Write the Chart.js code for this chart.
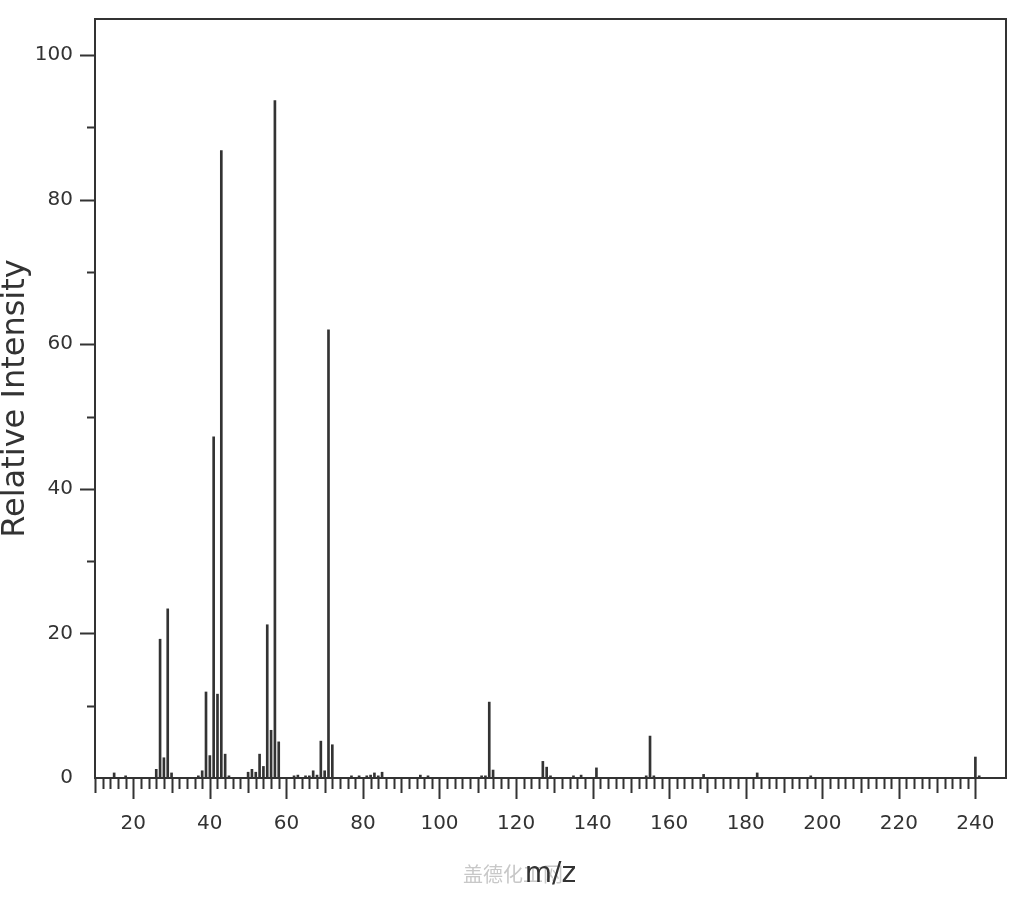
<!DOCTYPE html>
<html>
<head>
<meta charset="utf-8">
<script src="https://cdn.jsdelivr.net/npm/chart.js@4.4.1/dist/chart.umd.min.js"></script>
<style>
  body { margin: 0; background: #fff; }
  #wrap { width: 1024px; height: 900px; }
</style>
</head>
<body>
<div id="wrap"><canvas id="ms_chart" width="1024" height="900"></canvas></div>
<script>
// peaks: m/z and relative intensity (%)
const mzValues = [
  15, 18, 26, 27, 28, 29, 30, 37, 38, 39, 40, 41, 42, 43, 44, 45,
  50, 51, 52, 53, 54, 55, 56, 57, 58, 62, 63, 65, 66, 67, 68, 69, 70, 71, 72,
  77, 79, 81, 82, 83, 84, 85, 95, 97, 111, 112, 113, 114, 127, 128, 129,
  135, 137, 141, 154, 155, 156, 169, 183, 197, 240, 241
];
const intensities = [
  0.7, 0.3, 1.2, 19.2, 2.8, 23.4, 0.7, 0.3, 1.0, 11.9, 3.1, 47.2, 11.6, 86.8, 3.3, 0.3,
  0.8, 1.2, 0.8, 3.3, 1.6, 21.2, 6.6, 93.7, 5.0, 0.3, 0.4, 0.3, 0.3, 1.0, 0.4, 5.1, 1.0, 62.0, 4.6,
  0.3, 0.3, 0.3, 0.4, 0.7, 0.3, 0.8, 0.4, 0.3, 0.3, 0.3, 10.5, 1.1, 2.3, 1.5, 0.3,
  0.3, 0.4, 1.4, 0.3, 5.8, 0.3, 0.5, 0.7, 0.3, 2.9, 0.3
];
const xTickLabels = [20, 40, 60, 80, 100, 120, 140, 160, 180, 200, 220, 240];
const yTickLabels = [0, 20, 40, 60, 80, 100];

const ink = "#333";
const fontFamily = "'DejaVu Sans', sans-serif";

// frame, tick marks and the site watermark
const axisMarks = {
  id: "axisMarks",
  beforeDraw(chart) {
    const c = chart.ctx;
    c.save();
    c.fillStyle = "#c8c8c8";
    c.font = "20px 'Noto Sans CJK SC'";
    c.textAlign = "center";
    c.textBaseline = "middle";
    c.fillText("盖德化工网", 513, 874);
    c.restore();
  },
  afterDraw(chart) {
    const c = chart.ctx;
    const a = chart.chartArea;
    const x = chart.scales.x;
    const y = chart.scales.y;
    c.save();
    c.strokeStyle = ink;
    c.lineWidth = 2;
    c.strokeRect(a.left, a.top, a.right - a.left, a.bottom - a.top);
    c.beginPath();
    for (let v = 10; v <= 240; v += 2) {
      const px = Math.round(x.getPixelForValue(v)) + 0.5;
      const len = v % 20 === 0 ? 21 : v % 10 === 0 ? 15 : 11;
      c.moveTo(px, a.bottom);
      c.lineTo(px, a.bottom + len);
    }
    for (let v = 10; v <= 100; v += 10) {
      const py = Math.round(y.getPixelForValue(v)) + 0.5;
      const len = v % 20 === 0 ? 15 : 8;
      c.moveTo(a.left, py);
      c.lineTo(a.left - len, py);
    }
    c.stroke();
    c.restore();
  },
};

const ctx = document.getElementById("ms_chart");

const msChart = new Chart(ctx, {
  type: "bar",
  data: {
    datasets: [
      {
        label: "Relative Intensity",
        data: mzValues.map((m, i) => ({ x: m, y: intensities[i] })),
        backgroundColor: ink,
        borderWidth: 0,
        barThickness: 2,
      },
    ],
  },
  options: {
    responsive: false,
    animation: false,
    layout: {
      padding: { top: 19, right: 18, left: 0, bottom: 0 },
    },
    plugins: {
      legend: { display: false },
      tooltip: { enabled: false },
    },
    scales: {
      x: {
        type: "linear",
        min: 10,
        max: 248,
        offset: false,
        afterBuildTicks: (axis) => {
          axis.ticks = xTickLabels.map((v) => ({ value: v }));
        },
        afterFit: (axis) => {
          axis.height = 122;
          axis.paddingLeft = 0;
          axis.paddingRight = 0;
        },
        grid: { display: false, drawTicks: false },
        border: { display: false },
        ticks: {
          autoSkip: false,
          maxRotation: 0,
          padding: 34,
          color: ink,
          font: { family: fontFamily, size: 20 },
        },
        title: {
          display: true,
          text: "m/z",
          color: ink,
          font: { family: fontFamily, size: 28 },
          padding: { top: 0, bottom: 8 },
        },
      },
      y: {
        min: 0,
        max: 105,
        afterBuildTicks: (axis) => {
          axis.ticks = yTickLabels.map((v) => ({ value: v }));
        },
        afterFit: (axis) => {
          axis.width = 95;
          axis.paddingTop = 0;
          axis.paddingBottom = 0;
        },
        grid: { display: false, drawTicks: false },
        border: { display: false },
        ticks: {
          padding: 22,
          color: ink,
          font: { family: fontFamily, size: 20 },
        },
        title: {
          display: true,
          text: "Relative Intensity",
          color: ink,
          font: { family: fontFamily, size: 32, lineHeight: 1 },
          padding: 0,
        },
      },
    },
  },
  plugins: [axisMarks],
});
</script>
</body>
</html>
